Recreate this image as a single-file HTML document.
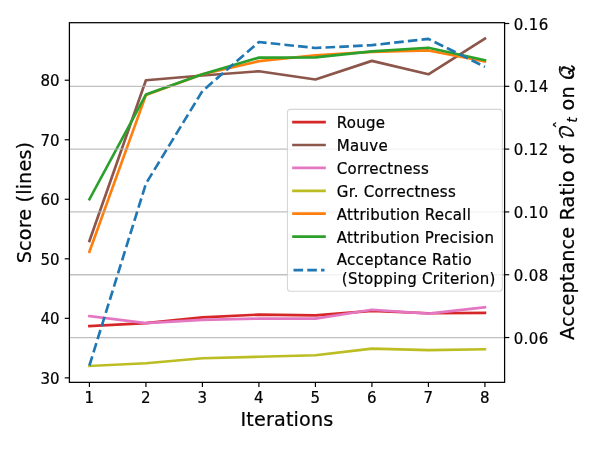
<!DOCTYPE html>
<html lang="en"><head><meta charset="utf-8"><title>Score and Acceptance Ratio over Iterations</title>
<style>
html,body{margin:0;padding:0;background:#fff;}
body{width:598px;height:449px;overflow:hidden;}
svg{display:block;}
text{font-family:"DejaVu Sans","Liberation Sans",sans-serif;fill:#000;stroke:#000;stroke-width:0.22px;}
.tk{font-size:15px;letter-spacing:0.1px;}
.tr{letter-spacing:0.4px;}
.lb{font-size:19.2px;letter-spacing:0.15px;}
.lg{font-size:15px;letter-spacing:0.28px;}
.m{font-family:"DejaVu Math TeX Gyre","DejaVu Serif","Liberation Serif",serif;}
</style></head><body>
<svg width="598" height="449" viewBox="0 0 598 449">
<rect x="0" y="0" width="598" height="449" fill="#ffffff"/>
<defs><clipPath id="ax"><rect x="69.4" y="22.7" width="435.20000000000005" height="359.65000000000003"/></clipPath></defs>

<g stroke="#000" stroke-width="1.2">
<line x1="64.73" y1="377.87" x2="69.40" y2="377.87"/>
<line x1="64.73" y1="318.34" x2="69.40" y2="318.34"/>
<line x1="64.73" y1="258.81" x2="69.40" y2="258.81"/>
<line x1="64.73" y1="199.28" x2="69.40" y2="199.28"/>
<line x1="64.73" y1="139.75" x2="69.40" y2="139.75"/>
<line x1="64.73" y1="80.22" x2="69.40" y2="80.22"/>
<line x1="89.42" y1="382.35" x2="89.42" y2="387.02"/>
<line x1="145.92" y1="382.35" x2="145.92" y2="387.02"/>
<line x1="202.42" y1="382.35" x2="202.42" y2="387.02"/>
<line x1="258.92" y1="382.35" x2="258.92" y2="387.02"/>
<line x1="315.42" y1="382.35" x2="315.42" y2="387.02"/>
<line x1="371.92" y1="382.35" x2="371.92" y2="387.02"/>
<line x1="428.42" y1="382.35" x2="428.42" y2="387.02"/>
<line x1="484.92" y1="382.35" x2="484.92" y2="387.02"/>
<line x1="504.60" y1="337.55" x2="509.27" y2="337.55"/>
<line x1="504.60" y1="274.74" x2="509.27" y2="274.74"/>
<line x1="504.60" y1="211.93" x2="509.27" y2="211.93"/>
<line x1="504.60" y1="149.12" x2="509.27" y2="149.12"/>
<line x1="504.60" y1="86.31" x2="509.27" y2="86.31"/>
<line x1="504.60" y1="23.50" x2="509.27" y2="23.50"/>
</g>
<text class="tk" x="59.76" y="383.77" text-anchor="end">30</text>
<text class="tk" x="59.76" y="324.24" text-anchor="end">40</text>
<text class="tk" x="59.76" y="264.71" text-anchor="end">50</text>
<text class="tk" x="59.76" y="205.18" text-anchor="end">60</text>
<text class="tk" x="59.76" y="145.65" text-anchor="end">70</text>
<text class="tk" x="59.76" y="86.12" text-anchor="end">80</text>
<text class="tk" x="89.42" y="403.25" text-anchor="middle">1</text>
<text class="tk" x="145.92" y="403.25" text-anchor="middle">2</text>
<text class="tk" x="202.42" y="403.25" text-anchor="middle">3</text>
<text class="tk" x="258.92" y="403.25" text-anchor="middle">4</text>
<text class="tk" x="315.42" y="403.25" text-anchor="middle">5</text>
<text class="tk" x="371.92" y="403.25" text-anchor="middle">6</text>
<text class="tk" x="428.42" y="403.25" text-anchor="middle">7</text>
<text class="tk" x="484.92" y="403.25" text-anchor="middle">8</text>
<text class="tk tr" x="513.67" y="343.55">0.06</text>
<text class="tk tr" x="513.67" y="280.74">0.08</text>
<text class="tk tr" x="513.67" y="217.93">0.10</text>
<text class="tk tr" x="513.67" y="155.12">0.12</text>
<text class="tk tr" x="513.67" y="92.31">0.14</text>
<text class="tk tr" x="513.67" y="29.50">0.16</text>
<g clip-path="url(#ax)" fill="none" stroke-width="2.67" stroke-linecap="square" stroke-linejoin="round">
<polyline points="89.42,326.08 145.92,323.10 202.42,317.45 258.92,314.59 315.42,315.42 371.92,310.90 428.42,313.28 484.92,312.92" stroke="#d62728"/>
<polyline points="89.42,240.95 145.92,80.22 202.42,75.46 258.92,71.29 315.42,79.45 371.92,60.87 428.42,74.27 484.92,38.67" stroke="#8c564b"/>
<polyline points="89.42,316.20 145.92,323.10 202.42,319.83 258.92,318.64 315.42,318.64 371.92,309.71 428.42,313.58 484.92,307.21" stroke="#e377c2"/>
<polyline points="89.42,365.96 145.92,363.23 202.42,358.23 258.92,356.74 315.42,355.25 371.92,348.70 428.42,350.19 484.92,349.30" stroke="#bcbd22"/>
<polyline points="89.42,251.67 145.92,95.10 202.42,74.27 258.92,61.17 315.42,55.22 371.92,51.94 428.42,50.45 484.92,61.47" stroke="#ff7f0e"/>
<polyline points="89.42,199.28 145.92,94.51 202.42,74.27 258.92,57.60 315.42,57.30 371.92,51.35 428.42,47.72 484.92,60.28" stroke="#2ca02c"/>
</g>
<g stroke="#b0b0b0" stroke-opacity="0.8" stroke-width="1.3">
<line x1="69.40" y1="337.55" x2="504.60" y2="337.55"/>
<line x1="69.40" y1="274.74" x2="504.60" y2="274.74"/>
<line x1="69.40" y1="211.93" x2="504.60" y2="211.93"/>
<line x1="69.40" y1="149.12" x2="504.60" y2="149.12"/>
<line x1="69.40" y1="86.31" x2="504.60" y2="86.31"/>
</g>
<polyline clip-path="url(#ax)" points="89.42,365.50 145.92,183.67 202.42,91.02 258.92,42.03 315.42,48.00 371.92,45.17 428.42,38.89 484.92,66.84" fill="none" stroke="#1f77b4" stroke-width="2.67" stroke-dasharray="9.62 4.15" stroke-linejoin="round"/>
<rect x="69.4" y="22.7" width="435.20000000000005" height="359.65000000000003" fill="none" stroke="#000" stroke-width="1.25"/>
<rect x="287.4" y="109.4" width="214.9" height="181.8" rx="3" ry="3" fill="#fff" fill-opacity="0.8" stroke="#ccc" stroke-opacity="0.8" stroke-width="1.07"/>
<line x1="293.5" y1="122.10" x2="324.5" y2="122.10" stroke="#d62728" stroke-width="2.67" stroke-linecap="square"/>
<text class="lg" x="336.8" y="128.10">Rouge</text>
<line x1="293.5" y1="145.00" x2="324.5" y2="145.00" stroke="#8c564b" stroke-width="2.67" stroke-linecap="square"/>
<text class="lg" x="336.8" y="151.00">Mauve</text>
<line x1="293.5" y1="167.90" x2="324.5" y2="167.90" stroke="#e377c2" stroke-width="2.67" stroke-linecap="square"/>
<text class="lg" x="336.8" y="173.90">Correctness</text>
<line x1="293.5" y1="190.80" x2="324.5" y2="190.80" stroke="#bcbd22" stroke-width="2.67" stroke-linecap="square"/>
<text class="lg" x="336.8" y="196.80">Gr. Correctness</text>
<line x1="293.5" y1="213.70" x2="324.5" y2="213.70" stroke="#ff7f0e" stroke-width="2.67" stroke-linecap="square"/>
<text class="lg" x="336.8" y="219.70">Attribution Recall</text>
<line x1="293.5" y1="236.60" x2="324.5" y2="236.60" stroke="#2ca02c" stroke-width="2.67" stroke-linecap="square"/>
<text class="lg" x="336.8" y="242.60">Attribution Precision</text>
<line x1="293.5" y1="270.10" x2="324.5" y2="270.10" stroke="#1f77b4" stroke-width="2.67" stroke-dasharray="9.62 4.15"/>
<text class="lg" x="336.8" y="265.10">Acceptance Ratio</text>
<text class="lg" x="336.8" y="283.50" xml:space="preserve"> (Stopping Criterion)</text>
<text class="lb" x="287.00" y="426.0" text-anchor="middle">Iterations</text>
<text class="lb" transform="translate(31.3,202.53) rotate(-90)" text-anchor="middle">Score (lines)</text>
<g transform="translate(573.8,339.9) rotate(-90)">
<text class="lb" x="0" y="0">Acceptance Ratio of</text>
<text class="lb m" transform="translate(200.6,0) scale(0.8,1)" x="0" y="0" style="font-size:19.5px;letter-spacing:0;stroke-width:0.5px">&#x1D49F;</text>
<text class="lb" x="211.2" y="-7.6" style="font-size:16px;letter-spacing:0">&#x2C6;</text>
<text class="lb" x="217.5" y="3.4" style="font-size:13.4px;font-style:oblique">t</text>
<text class="lb" x="229.4" y="0">on</text>
<text class="lb m" x="259.5" y="0" style="font-size:20px;stroke-width:0.4px">&#x1D4AC;</text>
</g>
</svg></body></html>
